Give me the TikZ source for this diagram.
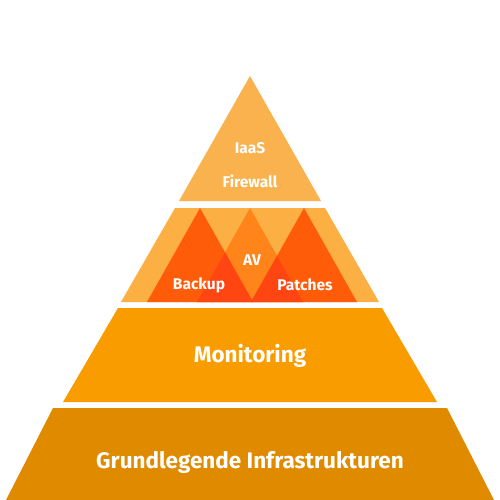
\documentclass[tikz,border=0pt]{standalone}
\usepackage{fontspec}
\setmainfont{Fira Sans}
\definecolor{ctop}{HTML}{F9B24E}
\definecolor{cband}{HTML}{FCAF42}
\definecolor{cred}{HTML}{FF5C0A}
\definecolor{cav}{HTML}{FF8419}
\definecolor{covl}{HTML}{FF4512}
\definecolor{cmon}{HTML}{F99C00}
\definecolor{cbase}{HTML}{E08A00}
\tikzset{
  lbl/.style={text=white, font=\bfseries, inner sep=0pt, anchor=center},
}
\begin{document}
\begin{tikzpicture}[x=1pt,y=-1pt]
\useasboundingbox (0,0) rectangle (500,500);
\fill[white] (0,0) rectangle (500,500);
% top triangle
\fill[ctop] (250,76) -- (321,201) -- (179,201) -- cycle;
% band 2
\fill[cband] (175,208) -- (325,208) -- (379,302) -- (121,302) -- cycle;
\fill[cav] (250,208) -- (303,302) -- (197,302) -- cycle;
\fill[cred] (200,208) -- (253,302) -- (147,302) -- cycle;
\fill[cred] (304,208) -- (357,302) -- (251,302) -- cycle;
\begin{scope}
  \clip (250,208) -- (303,302) -- (197,302) -- cycle;
  \fill[covl] (200,208) -- (253,302) -- (147,302) -- cycle;
  \fill[covl] (304,208) -- (357,302) -- (251,302) -- cycle;
\end{scope}
% band 3
\fill[cmon] (118,308) -- (382,308) -- (437,402) -- (63,402) -- cycle;
% band 4
\fill[cbase] (53,408) -- (447,408) -- (494,500) -- (6,500) -- cycle;
% labels
\node[lbl, font=\bfseries\fontsize{15.5}{18}\selectfont] (iaas) at (250,148) {IaaS};
\node[lbl, font=\bfseries\fontsize{15.5}{18}\selectfont] (fw) at (250,181) {Firewall};
\node[lbl, font=\bfseries\fontsize{15.5}{18}\selectfont] (av) at (252,260) {AV};
\node[lbl, font=\bfseries\fontsize{15.5}{18}\selectfont] (backup) at (199,285) {Backup};
\node[lbl, font=\bfseries\fontsize{15.5}{18}\selectfont] (patches) at (305,285) {Patches};
\node[lbl, font=\bfseries\fontsize{22.5}{26}\selectfont] (mon) at (250,356) {Monitoring};
\node[lbl, font=\bfseries\fontsize{22.5}{26}\selectfont] (base) at (250,462) {Grundlegende Infrastrukturen};
\end{tikzpicture}
\end{document}
